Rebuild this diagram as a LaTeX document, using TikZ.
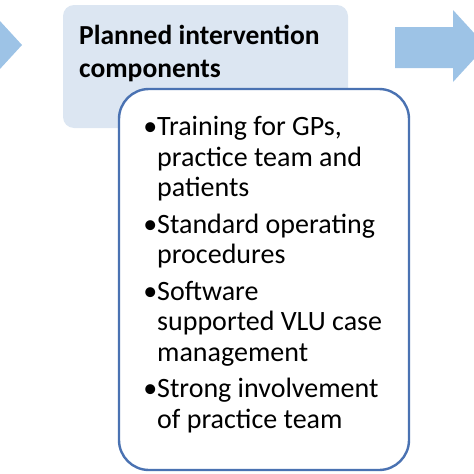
\documentclass[tikz,border=0pt]{standalone}
\usepackage{fontspec}
\setmainfont{Carlito}
\usepackage{xcolor}
\definecolor{paleblue}{HTML}{DCE6F2}
\definecolor{arrowblue}{HTML}{9DC3E6}
\definecolor{edgeblue}{HTML}{4A72B2}
\tikzset{
	headbox/.style={rounded corners=11pt, fill=paleblue, draw=none, minimum width=285pt, minimum height=123pt, inner sep=0pt},
	listbox/.style={rounded corners=30pt, fill=white, draw=edgeblue, line width=2.4pt, minimum width=290pt, minimum height=381pt, inner sep=0pt},
	blockarrow/.style={fill=arrowblue, draw=none}
}

\begin{document}
\begin{tikzpicture}[x=1pt,y=-1pt]
	\useasboundingbox (0,0) rectangle (474,474);
	\clip (0,0) rectangle (474,474);

	\fill[blockarrow] (-12,8) -- (22,45) -- (-12,82) -- cycle;
	\fill[blockarrow] (395,27) -- (453,27) -- (453,10) -- (486,46) -- (453,82) -- (453,68) -- (395,68) -- cycle;

	\node[headbox] (head) at (205.5,66.5) {};
	\node[anchor=base west, align=left, inner sep=0pt, font=\bfseries\fontsize{27.5}{33}\selectfont] (title) at (79,77) {Planned intervention\\components};

	\node[listbox] (list) at (264,279.5) {};
	\node[anchor=base west, align=left, inner sep=0pt, font=\fontsize{28}{30.5}\selectfont] (items) at (157,428)
		{\llap{\textbullet}Training for GPs,\\practice team and\\patients\\[6pt]
		 \llap{\textbullet}Standard operating\\procedures\\[6pt]
		 \llap{\textbullet}Software\\supported VLU case\\management\\[6pt]
		 \llap{\textbullet}Strong involvement\\of practice team};
\end{tikzpicture}
\end{document}
